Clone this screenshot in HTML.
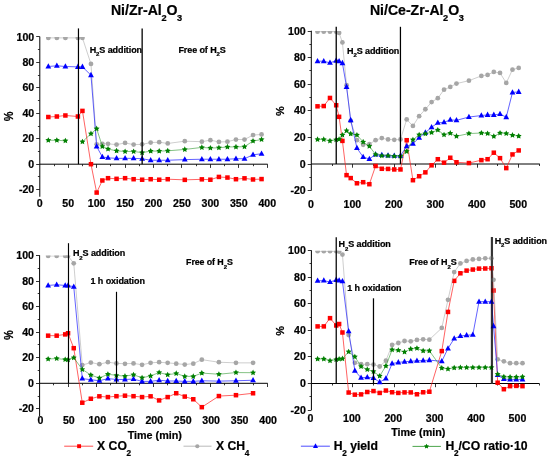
<!DOCTYPE html>
<html><head><meta charset="utf-8"><title>Ni/Zr-Al2O3 vs Ni/Ce-Zr-Al2O3</title>
<style>html,body{margin:0;padding:0;background:#fff}svg{display:block}
svg text{font-family:'Liberation Sans', Arial, sans-serif;font-weight:bold;fill:#000;stroke:#000;stroke-width:0.22px}</style></head>
<body><svg font-size="10" width="550" height="459" viewBox="0 0 550 459">
<rect width="550" height="459" fill="#fff"/>
<path d="M39.80,36.60V196.76M39.80,164.20H267.64" stroke="#000" stroke-width="1" fill="none"/>
<path d="M39.80,189.50h-3.6M39.80,176.50h-1.9M39.80,164.50h-3.6M39.80,151.50h-1.9M39.80,138.50h-3.6M39.80,126.50h-1.9M39.80,113.50h-3.6M39.80,100.50h-1.9M39.80,87.50h-3.6M39.80,75.50h-1.9M39.80,62.50h-3.6M39.80,49.50h-1.9M39.80,36.50h-3.6M54.50,164.20v2.0M68.50,164.20v3.7M82.50,164.20v2.0M96.50,164.20v3.7M110.50,164.20v2.0M125.50,164.20v3.7M139.50,164.20v2.0M153.50,164.20v3.7M167.50,164.20v2.0M181.50,164.20v3.7M196.50,164.20v2.0M210.50,164.20v3.7M224.50,164.20v2.0M238.50,164.20v3.7M253.50,164.20v2.0M267.50,164.20v3.7" stroke="#111" stroke-width="0.85" fill="none"/>
<text x="34.20" y="193.14" text-anchor="end" font-size="10.6">-20</text>
<text x="34.20" y="167.70" text-anchor="end" font-size="10.6">0</text>
<text x="34.20" y="142.26" text-anchor="end" font-size="10.6">20</text>
<text x="34.20" y="116.82" text-anchor="end" font-size="10.6">40</text>
<text x="34.20" y="91.38" text-anchor="end" font-size="10.6">60</text>
<text x="34.20" y="65.94" text-anchor="end" font-size="10.6">80</text>
<text x="34.20" y="40.50" text-anchor="end" font-size="10.6">100</text>
<text x="39.80" y="206.9" text-anchor="middle" font-size="10.6">0</text>
<text x="68.23" y="206.9" text-anchor="middle" font-size="10.6">50</text>
<text x="96.66" y="206.9" text-anchor="middle" font-size="10.6">100</text>
<text x="125.09" y="206.9" text-anchor="middle" font-size="10.6">150</text>
<text x="153.52" y="206.9" text-anchor="middle" font-size="10.6">200</text>
<text x="181.95" y="206.9" text-anchor="middle" font-size="10.6">250</text>
<text x="210.38" y="206.9" text-anchor="middle" font-size="10.6">300</text>
<text x="238.81" y="206.9" text-anchor="middle" font-size="10.6">350</text>
<text x="267.24" y="206.9" text-anchor="middle" font-size="10.6">400</text>
<text transform="translate(12.5,116.3) rotate(-90) scale(1,1.13)" text-anchor="middle" font-size="11">%</text>
<clipPath id="c1"><rect x="39.80" y="37.00" width="227.44" height="166.12"/></clipPath><g clip-path="url(#c1)">
<polyline points="48.33,117.01 56.86,116.50 65.39,115.48 77.90,116.50 82.44,110.90 90.97,164.20 96.66,192.57 102.35,180.48 108.03,178.19 116.56,178.83 125.09,178.19 133.62,179.21 142.15,179.72 150.68,179.21 159.21,179.72 167.74,179.21 184.79,179.85 201.85,179.34 210.38,179.72 218.91,176.92 227.44,177.56 235.97,179.21 244.50,178.32 253.02,179.46 261.55,179.08" fill="none" stroke="#ff2020" stroke-width="0.7"/>
<g fill="#ff0000"><rect x="46.08" y="114.76" width="4.5" height="4.5"/><rect x="54.61" y="114.25" width="4.5" height="4.5"/><rect x="63.14" y="113.23" width="4.5" height="4.5"/><rect x="75.65" y="114.25" width="4.5" height="4.5"/><rect x="80.19" y="108.65" width="4.5" height="4.5"/><rect x="88.72" y="161.95" width="4.5" height="4.5"/><rect x="94.41" y="190.32" width="4.5" height="4.5"/><rect x="100.10" y="178.23" width="4.5" height="4.5"/><rect x="105.78" y="175.94" width="4.5" height="4.5"/><rect x="114.31" y="176.58" width="4.5" height="4.5"/><rect x="122.84" y="175.94" width="4.5" height="4.5"/><rect x="131.37" y="176.96" width="4.5" height="4.5"/><rect x="139.90" y="177.47" width="4.5" height="4.5"/><rect x="148.43" y="176.96" width="4.5" height="4.5"/><rect x="156.96" y="177.47" width="4.5" height="4.5"/><rect x="165.49" y="176.96" width="4.5" height="4.5"/><rect x="182.54" y="177.60" width="4.5" height="4.5"/><rect x="199.60" y="177.09" width="4.5" height="4.5"/><rect x="208.13" y="177.47" width="4.5" height="4.5"/><rect x="216.66" y="174.67" width="4.5" height="4.5"/><rect x="225.19" y="175.31" width="4.5" height="4.5"/><rect x="233.72" y="176.96" width="4.5" height="4.5"/><rect x="242.25" y="176.07" width="4.5" height="4.5"/><rect x="250.77" y="177.21" width="4.5" height="4.5"/><rect x="259.30" y="176.83" width="4.5" height="4.5"/></g>
<polyline points="48.33,37.89 56.86,37.89 65.39,37.89 77.90,37.89 82.44,37.89 90.97,63.97 96.66,144.36 102.35,143.85 108.03,143.85 116.56,144.61 125.09,142.96 133.62,144.61 142.15,144.36 150.68,142.58 159.21,142.19 167.74,143.47 184.79,141.18 201.85,141.69 210.38,140.16 218.91,141.94 227.44,141.69 235.97,139.52 244.50,139.52 253.02,135.07 261.55,134.44" fill="none" stroke="#acacac" stroke-width="0.6"/>
<g fill="#a6a6a6"><circle cx="48.33" cy="37.89" r="2.38"/><circle cx="56.86" cy="37.89" r="2.38"/><circle cx="65.39" cy="37.89" r="2.38"/><circle cx="77.90" cy="37.89" r="2.38"/><circle cx="82.44" cy="37.89" r="2.38"/><circle cx="90.97" cy="63.97" r="2.38"/><circle cx="96.66" cy="144.36" r="2.38"/><circle cx="102.35" cy="143.85" r="2.38"/><circle cx="108.03" cy="143.85" r="2.38"/><circle cx="116.56" cy="144.61" r="2.38"/><circle cx="125.09" cy="142.96" r="2.38"/><circle cx="133.62" cy="144.61" r="2.38"/><circle cx="142.15" cy="144.36" r="2.38"/><circle cx="150.68" cy="142.58" r="2.38"/><circle cx="159.21" cy="142.19" r="2.38"/><circle cx="167.74" cy="143.47" r="2.38"/><circle cx="184.79" cy="141.18" r="2.38"/><circle cx="201.85" cy="141.69" r="2.38"/><circle cx="210.38" cy="140.16" r="2.38"/><circle cx="218.91" cy="141.94" r="2.38"/><circle cx="227.44" cy="141.69" r="2.38"/><circle cx="235.97" cy="139.52" r="2.38"/><circle cx="244.50" cy="139.52" r="2.38"/><circle cx="253.02" cy="135.07" r="2.38"/><circle cx="261.55" cy="134.44" r="2.38"/></g>
<polyline points="48.33,66.51 56.86,65.75 65.39,66.51 77.90,66.89 82.44,66.89 90.97,75.16 96.66,146.52 102.35,156.95 108.03,157.84 116.56,158.35 125.09,158.35 133.62,158.35 142.15,158.73 150.68,160.26 159.21,160.26 167.74,160.26 184.79,159.62 201.85,159.24 210.38,159.24 218.91,159.24 227.44,159.24 235.97,158.73 244.50,158.73 253.02,154.79 261.55,153.77" fill="none" stroke="#2020ff" stroke-width="0.7"/>
<g fill="#0000ff"><polygon points="48.33,63.21 51.23,68.51 45.43,68.51"/><polygon points="56.86,62.45 59.76,67.75 53.96,67.75"/><polygon points="65.39,63.21 68.29,68.51 62.49,68.51"/><polygon points="77.90,63.59 80.80,68.89 75.00,68.89"/><polygon points="82.44,63.59 85.34,68.89 79.54,68.89"/><polygon points="90.97,71.86 93.87,77.16 88.07,77.16"/><polygon points="96.66,143.22 99.56,148.52 93.76,148.52"/><polygon points="102.35,153.65 105.25,158.95 99.45,158.95"/><polygon points="108.03,154.54 110.93,159.84 105.13,159.84"/><polygon points="116.56,155.05 119.46,160.35 113.66,160.35"/><polygon points="125.09,155.05 127.99,160.35 122.19,160.35"/><polygon points="133.62,155.05 136.52,160.35 130.72,160.35"/><polygon points="142.15,155.43 145.05,160.73 139.25,160.73"/><polygon points="150.68,156.96 153.58,162.26 147.78,162.26"/><polygon points="159.21,156.96 162.11,162.26 156.31,162.26"/><polygon points="167.74,156.96 170.64,162.26 164.84,162.26"/><polygon points="184.79,156.32 187.69,161.62 181.89,161.62"/><polygon points="201.85,155.94 204.75,161.24 198.95,161.24"/><polygon points="210.38,155.94 213.28,161.24 207.48,161.24"/><polygon points="218.91,155.94 221.81,161.24 216.01,161.24"/><polygon points="227.44,155.94 230.34,161.24 224.54,161.24"/><polygon points="235.97,155.43 238.87,160.73 233.07,160.73"/><polygon points="244.50,155.43 247.40,160.73 241.60,160.73"/><polygon points="253.02,151.49 255.92,156.79 250.12,156.79"/><polygon points="261.55,150.47 264.45,155.77 258.65,155.77"/></g>
<polyline points="48.33,140.29 56.86,140.29 65.39,140.80" fill="none" stroke="#1f8f1f" stroke-width="0.55"/>
<polyline points="82.44,141.81 90.97,133.67 96.66,128.71 102.35,146.39 108.03,149.06 116.56,150.84 125.09,151.48 133.62,151.48 142.15,152.62 150.68,151.10 159.21,151.10 167.74,150.84 184.79,149.44 201.85,147.41 210.38,148.05 218.91,147.79 227.44,146.90 235.97,146.90 244.50,146.65 253.02,141.05 261.55,139.52" fill="none" stroke="#1f8f1f" stroke-width="0.55"/>
<g fill="#007f00"><polygon points="48.33,137.19 49.24,139.03 51.28,139.33 49.80,140.77 50.15,142.79 48.33,141.84 46.51,142.79 46.85,140.77 45.38,139.33 47.42,139.03"/><polygon points="56.86,137.19 57.77,139.03 59.81,139.33 58.33,140.77 58.68,142.79 56.86,141.84 55.04,142.79 55.38,140.77 53.91,139.33 55.95,139.03"/><polygon points="65.39,137.70 66.30,139.54 68.34,139.84 66.86,141.27 67.21,143.30 65.39,142.35 63.56,143.30 63.91,141.27 62.44,139.84 64.48,139.54"/><polygon points="82.44,138.71 83.36,140.56 85.39,140.85 83.92,142.29 84.27,144.32 82.44,143.36 80.62,144.32 80.97,142.29 79.50,140.85 81.53,140.56"/><polygon points="90.97,130.57 91.89,132.42 93.92,132.71 92.45,134.15 92.80,136.18 90.97,135.22 89.15,136.18 89.50,134.15 88.03,132.71 90.06,132.42"/><polygon points="96.66,125.61 97.57,127.46 99.61,127.75 98.13,129.19 98.48,131.22 96.66,130.26 94.84,131.22 95.19,129.19 93.71,127.75 95.75,127.46"/><polygon points="102.35,143.29 103.26,145.14 105.29,145.43 103.82,146.87 104.17,148.90 102.35,147.94 100.52,148.90 100.87,146.87 99.40,145.43 101.43,145.14"/><polygon points="108.03,145.96 108.94,147.81 110.98,148.11 109.51,149.54 109.85,151.57 108.03,150.61 106.21,151.57 106.56,149.54 105.08,148.11 107.12,147.81"/><polygon points="116.56,147.74 117.47,149.59 119.51,149.89 118.04,151.32 118.38,153.35 116.56,152.39 114.74,153.35 115.09,151.32 113.61,149.89 115.65,149.59"/><polygon points="125.09,148.38 126.00,150.23 128.04,150.52 126.56,151.96 126.91,153.99 125.09,153.03 123.27,153.99 123.62,151.96 122.14,150.52 124.18,150.23"/><polygon points="133.62,148.38 134.53,150.23 136.57,150.52 135.09,151.96 135.44,153.99 133.62,153.03 131.80,153.99 132.14,151.96 130.67,150.52 132.71,150.23"/><polygon points="142.15,149.52 143.06,151.37 145.10,151.67 143.62,153.10 143.97,155.13 142.15,154.17 140.33,155.13 140.67,153.10 139.20,151.67 141.24,151.37"/><polygon points="150.68,148.00 151.59,149.84 153.63,150.14 152.15,151.58 152.50,153.61 150.68,152.65 148.85,153.61 149.20,151.58 147.73,150.14 149.77,149.84"/><polygon points="159.21,148.00 160.12,149.84 162.15,150.14 160.68,151.58 161.03,153.61 159.21,152.65 157.38,153.61 157.73,151.58 156.26,150.14 158.29,149.84"/><polygon points="167.74,147.74 168.65,149.59 170.68,149.89 169.21,151.32 169.56,153.35 167.74,152.39 165.91,153.35 166.26,151.32 164.79,149.89 166.82,149.59"/><polygon points="184.79,146.34 185.70,148.19 187.74,148.49 186.27,149.92 186.62,151.95 184.79,150.99 182.97,151.95 183.32,149.92 181.84,148.49 183.88,148.19"/><polygon points="201.85,144.31 202.76,146.16 204.80,146.45 203.33,147.89 203.67,149.92 201.85,148.96 200.03,149.92 200.38,147.89 198.90,146.45 200.94,146.16"/><polygon points="210.38,144.95 211.29,146.79 213.33,147.09 211.85,148.52 212.20,150.55 210.38,149.60 208.56,150.55 208.91,148.52 207.43,147.09 209.47,146.79"/><polygon points="218.91,144.69 219.82,146.54 221.86,146.83 220.38,148.27 220.73,150.30 218.91,149.34 217.09,150.30 217.43,148.27 215.96,146.83 218.00,146.54"/><polygon points="227.44,143.80 228.35,145.65 230.39,145.94 228.91,147.38 229.26,149.41 227.44,148.45 225.62,149.41 225.96,147.38 224.49,145.94 226.53,145.65"/><polygon points="235.97,143.80 236.88,145.65 238.92,145.94 237.44,147.38 237.79,149.41 235.97,148.45 234.14,149.41 234.49,147.38 233.02,145.94 235.06,145.65"/><polygon points="244.50,143.55 245.41,145.39 247.44,145.69 245.97,147.13 246.32,149.15 244.50,148.20 242.67,149.15 243.02,147.13 241.55,145.69 243.58,145.39"/><polygon points="253.02,137.95 253.94,139.80 255.97,140.09 254.50,141.53 254.85,143.56 253.02,142.60 251.20,143.56 251.55,141.53 250.08,140.09 252.11,139.80"/><polygon points="261.55,136.42 262.47,138.27 264.50,138.57 263.03,140.00 263.38,142.03 261.55,141.07 259.73,142.03 260.08,140.00 258.61,138.57 260.64,138.27"/></g>
</g>
<path d="M78.46,28.4V164.20" stroke="#000" stroke-width="1.2" fill="none"/>
<path d="M142.15,28.4V164.20" stroke="#000" stroke-width="1.3" fill="none"/>
<text x="89.7" y="52.7" font-size="9" letter-spacing="-0.09">H<tspan font-size="6" dy="3.7">2</tspan><tspan dy="-3.7">S</tspan> addition</text>
<text x="178.4" y="52.7" font-size="9" letter-spacing="-0.09">Free of H<tspan font-size="6" dy="3.7">2</tspan><tspan dy="-3.7">S</tspan></text>
<path d="M311.30,30.70V190.58M311.30,164.00H539.84" stroke="#000" stroke-width="1" fill="none"/>
<path d="M311.30,190.50h-3.6M311.30,177.50h-1.9M311.30,164.50h-3.6M311.30,150.50h-1.9M311.30,137.50h-3.6M311.30,124.50h-1.9M311.30,110.50h-3.6M311.30,97.50h-1.9M311.30,84.50h-3.6M311.30,70.50h-1.9M311.30,57.50h-3.6M311.30,44.50h-1.9M311.30,31.50h-3.6M332.50,164.00v2.0M352.50,164.00v3.7M373.50,164.00v2.0M394.50,164.00v3.7M415.50,164.00v2.0M435.50,164.00v3.7M456.50,164.00v2.0M477.50,164.00v3.7M497.50,164.00v2.0M518.50,164.00v3.7M539.50,164.00v2.0" stroke="#111" stroke-width="0.85" fill="none"/>
<text x="305.70" y="194.08" text-anchor="end" font-size="10.6">-20</text>
<text x="305.70" y="167.50" text-anchor="end" font-size="10.6">0</text>
<text x="305.70" y="140.92" text-anchor="end" font-size="10.6">20</text>
<text x="305.70" y="114.34" text-anchor="end" font-size="10.6">40</text>
<text x="305.70" y="87.76" text-anchor="end" font-size="10.6">60</text>
<text x="305.70" y="61.18" text-anchor="end" font-size="10.6">80</text>
<text x="305.70" y="34.60" text-anchor="end" font-size="10.6">100</text>
<text x="310.90" y="208.0" text-anchor="middle" font-size="10.6">0</text>
<text x="352.38" y="208.0" text-anchor="middle" font-size="10.6">100</text>
<text x="393.86" y="208.0" text-anchor="middle" font-size="10.6">200</text>
<text x="435.34" y="208.0" text-anchor="middle" font-size="10.6">300</text>
<text x="476.82" y="208.0" text-anchor="middle" font-size="10.6">400</text>
<text x="518.30" y="208.0" text-anchor="middle" font-size="10.6">500</text>
<text transform="translate(283.6,111.2) rotate(-90) scale(1,1.05)" text-anchor="middle" font-size="11">%</text>
<clipPath id="c2"><rect x="311.30" y="31.10" width="228.14" height="166.12"/></clipPath><g clip-path="url(#c2)">
<polyline points="317.52,106.32 323.74,106.06 329.97,97.95 336.19,105.26 339.09,116.82 342.41,140.88 346.56,175.16 350.71,178.09 356.93,183.27 363.15,182.21 369.37,184.20 375.59,165.99 381.82,168.78 388.04,168.92 394.26,169.45 400.48,169.45 406.70,140.21 412.93,180.21 419.15,176.23 425.37,172.37 431.59,165.33 437.81,159.22 444.04,162.67 450.26,157.75 456.48,162.27 468.92,163.07 481.37,160.15 487.59,159.22 493.81,152.70 500.03,158.15 506.26,168.12 512.48,154.43 518.70,150.44" fill="none" stroke="#ff2020" stroke-width="0.7"/>
<g fill="#ff0000"><rect x="315.27" y="104.07" width="4.5" height="4.5"/><rect x="321.49" y="103.81" width="4.5" height="4.5"/><rect x="327.72" y="95.70" width="4.5" height="4.5"/><rect x="333.94" y="103.01" width="4.5" height="4.5"/><rect x="336.84" y="114.57" width="4.5" height="4.5"/><rect x="340.16" y="138.63" width="4.5" height="4.5"/><rect x="344.31" y="172.91" width="4.5" height="4.5"/><rect x="348.46" y="175.84" width="4.5" height="4.5"/><rect x="354.68" y="181.02" width="4.5" height="4.5"/><rect x="360.90" y="179.96" width="4.5" height="4.5"/><rect x="367.12" y="181.95" width="4.5" height="4.5"/><rect x="373.34" y="163.74" width="4.5" height="4.5"/><rect x="379.57" y="166.53" width="4.5" height="4.5"/><rect x="385.79" y="166.67" width="4.5" height="4.5"/><rect x="392.01" y="167.20" width="4.5" height="4.5"/><rect x="398.23" y="167.20" width="4.5" height="4.5"/><rect x="404.45" y="137.96" width="4.5" height="4.5"/><rect x="410.68" y="177.96" width="4.5" height="4.5"/><rect x="416.90" y="173.98" width="4.5" height="4.5"/><rect x="423.12" y="170.12" width="4.5" height="4.5"/><rect x="429.34" y="163.08" width="4.5" height="4.5"/><rect x="435.56" y="156.97" width="4.5" height="4.5"/><rect x="441.79" y="160.42" width="4.5" height="4.5"/><rect x="448.01" y="155.50" width="4.5" height="4.5"/><rect x="454.23" y="160.02" width="4.5" height="4.5"/><rect x="466.67" y="160.82" width="4.5" height="4.5"/><rect x="479.12" y="157.90" width="4.5" height="4.5"/><rect x="485.34" y="156.97" width="4.5" height="4.5"/><rect x="491.56" y="150.45" width="4.5" height="4.5"/><rect x="497.78" y="155.90" width="4.5" height="4.5"/><rect x="504.01" y="165.87" width="4.5" height="4.5"/><rect x="510.23" y="152.18" width="4.5" height="4.5"/><rect x="516.45" y="148.19" width="4.5" height="4.5"/></g>
<polyline points="317.52,31.63 323.74,31.63 329.97,31.63 336.19,31.63 339.09,32.96 342.41,42.40 346.56,85.19 350.71,120.94 356.93,140.21 363.15,144.86 369.37,144.20 375.59,140.21 381.82,138.08 388.04,139.41 394.26,139.81 400.48,139.41 406.70,119.48 412.93,125.99 419.15,116.16 425.37,109.25 431.59,102.07 437.81,98.21 444.04,89.71 450.26,86.92 456.48,83.60 468.92,80.67 481.37,75.89 487.59,74.96 493.81,71.90 500.03,72.96 506.26,82.93 512.48,69.64 518.70,67.91" fill="none" stroke="#acacac" stroke-width="0.6"/>
<g fill="#a6a6a6"><circle cx="317.52" cy="31.63" r="2.38"/><circle cx="323.74" cy="31.63" r="2.38"/><circle cx="329.97" cy="31.63" r="2.38"/><circle cx="336.19" cy="31.63" r="2.38"/><circle cx="339.09" cy="32.96" r="2.38"/><circle cx="342.41" cy="42.40" r="2.38"/><circle cx="346.56" cy="85.19" r="2.38"/><circle cx="350.71" cy="120.94" r="2.38"/><circle cx="356.93" cy="140.21" r="2.38"/><circle cx="363.15" cy="144.86" r="2.38"/><circle cx="369.37" cy="144.20" r="2.38"/><circle cx="375.59" cy="140.21" r="2.38"/><circle cx="381.82" cy="138.08" r="2.38"/><circle cx="388.04" cy="139.41" r="2.38"/><circle cx="394.26" cy="139.81" r="2.38"/><circle cx="400.48" cy="139.41" r="2.38"/><circle cx="406.70" cy="119.48" r="2.38"/><circle cx="412.93" cy="125.99" r="2.38"/><circle cx="419.15" cy="116.16" r="2.38"/><circle cx="425.37" cy="109.25" r="2.38"/><circle cx="431.59" cy="102.07" r="2.38"/><circle cx="437.81" cy="98.21" r="2.38"/><circle cx="444.04" cy="89.71" r="2.38"/><circle cx="450.26" cy="86.92" r="2.38"/><circle cx="456.48" cy="83.60" r="2.38"/><circle cx="468.92" cy="80.67" r="2.38"/><circle cx="481.37" cy="75.89" r="2.38"/><circle cx="487.59" cy="74.96" r="2.38"/><circle cx="493.81" cy="71.90" r="2.38"/><circle cx="500.03" cy="72.96" r="2.38"/><circle cx="506.26" cy="82.93" r="2.38"/><circle cx="512.48" cy="69.64" r="2.38"/><circle cx="518.70" cy="67.91" r="2.38"/></g>
<polyline points="317.52,61.20 323.74,61.20 329.97,62.86 336.19,60.67 339.09,61.20 342.41,63.13 346.56,86.92 350.71,120.14 356.93,148.05 363.15,157.09 369.37,158.95 375.59,154.43 381.82,155.10 388.04,155.49 394.26,155.76 400.48,155.76 406.70,146.32 412.93,143.80 419.15,137.69 425.37,132.64 431.59,127.25 437.81,122.87 444.04,122.34 450.26,119.81 456.48,120.34 468.92,117.02 481.37,115.56 487.59,114.89 493.81,114.89 500.03,114.10 506.26,117.15 512.48,92.43 518.70,91.90" fill="none" stroke="#2020ff" stroke-width="0.7"/>
<g fill="#0000ff"><polygon points="317.52,57.90 320.42,63.20 314.62,63.20"/><polygon points="323.74,57.90 326.64,63.20 320.84,63.20"/><polygon points="329.97,59.56 332.87,64.86 327.07,64.86"/><polygon points="336.19,57.37 339.09,62.67 333.29,62.67"/><polygon points="339.09,57.90 341.99,63.20 336.19,63.20"/><polygon points="342.41,59.83 345.31,65.13 339.51,65.13"/><polygon points="346.56,83.62 349.46,88.92 343.66,88.92"/><polygon points="350.71,116.84 353.61,122.14 347.81,122.14"/><polygon points="356.93,144.75 359.83,150.05 354.03,150.05"/><polygon points="363.15,153.79 366.05,159.09 360.25,159.09"/><polygon points="369.37,155.65 372.27,160.95 366.47,160.95"/><polygon points="375.59,151.13 378.49,156.43 372.69,156.43"/><polygon points="381.82,151.80 384.72,157.10 378.92,157.10"/><polygon points="388.04,152.19 390.94,157.49 385.14,157.49"/><polygon points="394.26,152.46 397.16,157.76 391.36,157.76"/><polygon points="400.48,152.46 403.38,157.76 397.58,157.76"/><polygon points="406.70,143.02 409.60,148.32 403.80,148.32"/><polygon points="412.93,140.50 415.83,145.80 410.03,145.80"/><polygon points="419.15,134.39 422.05,139.69 416.25,139.69"/><polygon points="425.37,129.34 428.27,134.64 422.47,134.64"/><polygon points="431.59,123.95 434.49,129.25 428.69,129.25"/><polygon points="437.81,119.57 440.71,124.87 434.91,124.87"/><polygon points="444.04,119.04 446.94,124.34 441.14,124.34"/><polygon points="450.26,116.51 453.16,121.81 447.36,121.81"/><polygon points="456.48,117.04 459.38,122.34 453.58,122.34"/><polygon points="468.92,113.72 471.82,119.02 466.02,119.02"/><polygon points="481.37,112.26 484.27,117.56 478.47,117.56"/><polygon points="487.59,111.59 490.49,116.89 484.69,116.89"/><polygon points="493.81,111.59 496.71,116.89 490.91,116.89"/><polygon points="500.03,110.80 502.93,116.10 497.13,116.10"/><polygon points="506.26,113.85 509.16,119.15 503.36,119.15"/><polygon points="512.48,89.13 515.38,94.43 509.58,94.43"/><polygon points="518.70,88.60 521.60,93.90 515.80,93.90"/></g>
<polyline points="317.52,139.41 323.74,139.41 329.97,140.88 336.19,139.81 339.09,139.28 342.41,135.03 346.56,130.64 350.71,133.83 356.93,135.03 363.15,141.94 369.37,146.32 375.59,154.43 381.82,155.76 388.04,155.76 394.26,156.16 400.48,156.16 406.70,151.37 412.93,139.81 419.15,134.76 425.37,133.70 431.59,132.50 437.81,129.98 444.04,134.76 450.26,133.17 456.48,136.22 468.92,133.57 481.37,133.03 487.59,133.57 493.81,136.36 500.03,133.03 506.26,133.57 512.48,135.16 518.70,136.09" fill="none" stroke="#1f8f1f" stroke-width="0.55"/>
<g fill="#007f00"><polygon points="317.52,136.31 318.43,138.16 320.47,138.46 319.00,139.89 319.34,141.92 317.52,140.96 315.70,141.92 316.05,139.89 314.57,138.46 316.61,138.16"/><polygon points="323.74,136.31 324.66,138.16 326.69,138.46 325.22,139.89 325.57,141.92 323.74,140.96 321.92,141.92 322.27,139.89 320.80,138.46 322.83,138.16"/><polygon points="329.97,137.78 330.88,139.62 332.91,139.92 331.44,141.35 331.79,143.38 329.97,142.43 328.14,143.38 328.49,141.35 327.02,139.92 329.05,139.62"/><polygon points="336.19,136.71 337.10,138.56 339.14,138.85 337.66,140.29 338.01,142.32 336.19,141.36 334.37,142.32 334.71,140.29 333.24,138.85 335.28,138.56"/><polygon points="339.09,136.18 340.00,138.03 342.04,138.32 340.57,139.76 340.91,141.79 339.09,140.83 337.27,141.79 337.62,139.76 336.14,138.32 338.18,138.03"/><polygon points="342.41,131.93 343.32,133.77 345.36,134.07 343.88,135.51 344.23,137.54 342.41,136.58 340.59,137.54 340.94,135.51 339.46,134.07 341.50,133.77"/><polygon points="346.56,127.54 347.47,129.39 349.51,129.68 348.03,131.12 348.38,133.15 346.56,132.19 344.74,133.15 345.08,131.12 343.61,129.68 345.65,129.39"/><polygon points="350.71,130.73 351.62,132.58 353.65,132.87 352.18,134.31 352.53,136.34 350.71,135.38 348.88,136.34 349.23,134.31 347.76,132.87 349.79,132.58"/><polygon points="356.93,131.93 357.84,133.77 359.88,134.07 358.40,135.51 358.75,137.54 356.93,136.58 355.11,137.54 355.45,135.51 353.98,134.07 356.02,133.77"/><polygon points="363.15,138.84 364.06,140.68 366.10,140.98 364.62,142.42 364.97,144.45 363.15,143.49 361.33,144.45 361.68,142.42 360.20,140.98 362.24,140.68"/><polygon points="369.37,143.22 370.28,145.07 372.32,145.37 370.85,146.80 371.19,148.83 369.37,147.87 367.55,148.83 367.90,146.80 366.42,145.37 368.46,145.07"/><polygon points="375.59,151.33 376.51,153.18 378.54,153.47 377.07,154.91 377.42,156.94 375.59,155.98 373.77,156.94 374.12,154.91 372.65,153.47 374.68,153.18"/><polygon points="381.82,152.66 382.73,154.51 384.76,154.80 383.29,156.24 383.64,158.27 381.82,157.31 379.99,158.27 380.34,156.24 378.87,154.80 380.90,154.51"/><polygon points="388.04,152.66 388.95,154.51 390.99,154.80 389.51,156.24 389.86,158.27 388.04,157.31 386.22,158.27 386.56,156.24 385.09,154.80 387.13,154.51"/><polygon points="394.26,153.06 395.17,154.90 397.21,155.20 395.73,156.64 396.08,158.67 394.26,157.71 392.44,158.67 392.79,156.64 391.31,155.20 393.35,154.90"/><polygon points="400.48,153.06 401.39,154.90 403.43,155.20 401.96,156.64 402.30,158.67 400.48,157.71 398.66,158.67 399.01,156.64 397.53,155.20 399.57,154.90"/><polygon points="406.70,148.27 407.62,150.12 409.65,150.42 408.18,151.85 408.53,153.88 406.70,152.92 404.88,153.88 405.23,151.85 403.76,150.42 405.79,150.12"/><polygon points="412.93,136.71 413.84,138.56 415.87,138.85 414.40,140.29 414.75,142.32 412.93,141.36 411.10,142.32 411.45,140.29 409.98,138.85 412.01,138.56"/><polygon points="419.15,131.66 420.06,133.51 422.10,133.80 420.62,135.24 420.97,137.27 419.15,136.31 417.33,137.27 417.67,135.24 416.20,133.80 418.24,133.51"/><polygon points="425.37,130.60 426.28,132.44 428.32,132.74 426.84,134.18 427.19,136.21 425.37,135.25 423.55,136.21 423.90,134.18 422.42,132.74 424.46,132.44"/><polygon points="431.59,129.40 432.50,131.25 434.54,131.54 433.07,132.98 433.41,135.01 431.59,134.05 429.77,135.01 430.12,132.98 428.64,131.54 430.68,131.25"/><polygon points="437.81,126.88 438.73,128.72 440.76,129.02 439.29,130.46 439.64,132.49 437.81,131.53 435.99,132.49 436.34,130.46 434.87,129.02 436.90,128.72"/><polygon points="444.04,131.66 444.95,133.51 446.98,133.80 445.51,135.24 445.86,137.27 444.04,136.31 442.21,137.27 442.56,135.24 441.09,133.80 443.12,133.51"/><polygon points="450.26,130.07 451.17,131.91 453.21,132.21 451.73,133.65 452.08,135.68 450.26,134.72 448.44,135.68 448.78,133.65 447.31,132.21 449.35,131.91"/><polygon points="456.48,133.12 457.39,134.97 459.43,135.27 457.95,136.70 458.30,138.73 456.48,137.77 454.66,138.73 455.01,136.70 453.53,135.27 455.57,134.97"/><polygon points="468.92,130.47 469.84,132.31 471.87,132.61 470.40,134.04 470.75,136.07 468.92,135.12 467.10,136.07 467.45,134.04 465.98,132.61 468.01,132.31"/><polygon points="481.37,129.93 482.28,131.78 484.32,132.08 482.84,133.51 483.19,135.54 481.37,134.58 479.55,135.54 479.89,133.51 478.42,132.08 480.46,131.78"/><polygon points="487.59,130.47 488.50,132.31 490.54,132.61 489.06,134.04 489.41,136.07 487.59,135.12 485.77,136.07 486.12,134.04 484.64,132.61 486.68,132.31"/><polygon points="493.81,133.26 494.72,135.10 496.76,135.40 495.29,136.84 495.63,138.86 493.81,137.91 491.99,138.86 492.34,136.84 490.86,135.40 492.90,135.10"/><polygon points="500.03,129.93 500.95,131.78 502.98,132.08 501.51,133.51 501.86,135.54 500.03,134.58 498.21,135.54 498.56,133.51 497.09,132.08 499.12,131.78"/><polygon points="506.26,130.47 507.17,132.31 509.20,132.61 507.73,134.04 508.08,136.07 506.26,135.12 504.43,136.07 504.78,134.04 503.31,132.61 505.34,132.31"/><polygon points="512.48,132.06 513.39,133.91 515.43,134.20 513.95,135.64 514.30,137.67 512.48,136.71 510.66,137.67 511.00,135.64 509.53,134.20 511.57,133.91"/><polygon points="518.70,132.99 519.61,134.84 521.65,135.13 520.17,136.57 520.52,138.60 518.70,137.64 516.88,138.60 517.23,136.57 515.75,135.13 517.79,134.84"/></g>
</g>
<path d="M336.23,26.8V164.00" stroke="#000" stroke-width="1.3" fill="none"/>
<path d="M400.44,26.8V164.00" stroke="#000" stroke-width="1.25" fill="none"/>
<text x="347.0" y="53.5" font-size="9" letter-spacing="-0.09">H<tspan font-size="6" dy="3.7">2</tspan><tspan dy="-3.7">S</tspan> addition</text>
<path d="M39.60,255.20V415.99M39.60,383.30H267.68" stroke="#000" stroke-width="1" fill="none"/>
<path d="M39.60,408.50h-3.6M39.60,396.50h-1.9M39.60,383.50h-3.6M39.60,370.50h-1.9M39.60,357.50h-3.6M39.60,344.50h-1.9M39.60,332.50h-3.6M39.60,319.50h-1.9M39.60,306.50h-3.6M39.60,293.50h-1.9M39.60,281.50h-3.6M39.60,268.50h-1.9M39.60,255.50h-3.6M53.50,383.30v2.0M68.50,383.30v3.7M82.50,383.30v2.0M96.50,383.30v3.7M110.50,383.30v2.0M124.50,383.30v3.7M139.50,383.30v2.0M153.50,383.30v3.7M167.50,383.30v2.0M181.50,383.30v3.7M196.50,383.30v2.0M210.50,383.30v3.7M224.50,383.30v2.0M238.50,383.30v3.7M253.50,383.30v2.0M267.50,383.30v3.7" stroke="#111" stroke-width="0.85" fill="none"/>
<text x="34.00" y="412.34" text-anchor="end" font-size="10.6">-20</text>
<text x="34.00" y="386.80" text-anchor="end" font-size="10.6">0</text>
<text x="34.00" y="361.26" text-anchor="end" font-size="10.6">20</text>
<text x="34.00" y="335.72" text-anchor="end" font-size="10.6">40</text>
<text x="34.00" y="310.18" text-anchor="end" font-size="10.6">60</text>
<text x="34.00" y="284.64" text-anchor="end" font-size="10.6">80</text>
<text x="34.00" y="259.10" text-anchor="end" font-size="10.6">100</text>
<text x="40.40" y="423.9" text-anchor="middle" font-size="10.6">0</text>
<text x="68.86" y="423.9" text-anchor="middle" font-size="10.6">50</text>
<text x="97.32" y="423.9" text-anchor="middle" font-size="10.6">100</text>
<text x="125.78" y="423.9" text-anchor="middle" font-size="10.6">150</text>
<text x="154.24" y="423.9" text-anchor="middle" font-size="10.6">200</text>
<text x="182.70" y="423.9" text-anchor="middle" font-size="10.6">250</text>
<text x="211.16" y="423.9" text-anchor="middle" font-size="10.6">300</text>
<text x="239.62" y="423.9" text-anchor="middle" font-size="10.6">350</text>
<text x="268.08" y="423.9" text-anchor="middle" font-size="10.6">400</text>
<text transform="translate(12.5,335.2) rotate(-90) scale(1,1.13)" text-anchor="middle" font-size="11">%</text>
<clipPath id="c3"><rect x="39.60" y="255.60" width="227.68" height="166.78"/></clipPath><g clip-path="url(#c3)">
<polyline points="48.14,335.67 56.68,335.67 65.21,334.39 68.06,333.24 73.75,348.18 82.29,402.71 90.83,398.75 99.37,396.33 107.90,397.09 116.44,396.20 124.98,395.69 133.52,396.20 142.06,397.09 150.59,396.33 159.13,400.41 167.67,397.09 176.21,393.26 184.75,396.58 193.28,399.26 201.82,407.18 218.90,396.07 235.97,395.18 253.05,393.26" fill="none" stroke="#ff2020" stroke-width="0.7"/>
<g fill="#ff0000"><rect x="45.89" y="333.42" width="4.5" height="4.5"/><rect x="54.43" y="333.42" width="4.5" height="4.5"/><rect x="62.96" y="332.14" width="4.5" height="4.5"/><rect x="65.81" y="330.99" width="4.5" height="4.5"/><rect x="71.50" y="345.93" width="4.5" height="4.5"/><rect x="80.04" y="400.46" width="4.5" height="4.5"/><rect x="88.58" y="396.50" width="4.5" height="4.5"/><rect x="97.12" y="394.08" width="4.5" height="4.5"/><rect x="105.65" y="394.84" width="4.5" height="4.5"/><rect x="114.19" y="393.95" width="4.5" height="4.5"/><rect x="122.73" y="393.44" width="4.5" height="4.5"/><rect x="131.27" y="393.95" width="4.5" height="4.5"/><rect x="139.81" y="394.84" width="4.5" height="4.5"/><rect x="148.34" y="394.08" width="4.5" height="4.5"/><rect x="156.88" y="398.16" width="4.5" height="4.5"/><rect x="165.42" y="394.84" width="4.5" height="4.5"/><rect x="173.96" y="391.01" width="4.5" height="4.5"/><rect x="182.50" y="394.33" width="4.5" height="4.5"/><rect x="191.03" y="397.01" width="4.5" height="4.5"/><rect x="199.57" y="404.93" width="4.5" height="4.5"/><rect x="216.65" y="393.82" width="4.5" height="4.5"/><rect x="233.72" y="392.93" width="4.5" height="4.5"/><rect x="250.80" y="391.01" width="4.5" height="4.5"/></g>
<polyline points="48.14,255.98 56.68,255.98 65.21,255.98 68.06,255.98 73.75,263.26 82.29,365.04 90.83,362.61 99.37,364.15 107.90,362.23 116.44,363.38 124.98,363.76 133.52,363.38 142.06,364.78 150.59,362.87 159.13,362.23 167.67,362.87 176.21,363.63 184.75,364.53 193.28,363.63 201.82,359.68 218.90,362.23 235.97,362.87 253.05,362.87" fill="none" stroke="#acacac" stroke-width="0.6"/>
<g fill="#a6a6a6"><circle cx="48.14" cy="255.98" r="2.38"/><circle cx="56.68" cy="255.98" r="2.38"/><circle cx="65.21" cy="255.98" r="2.38"/><circle cx="68.06" cy="255.98" r="2.38"/><circle cx="73.75" cy="263.26" r="2.38"/><circle cx="82.29" cy="365.04" r="2.38"/><circle cx="90.83" cy="362.61" r="2.38"/><circle cx="99.37" cy="364.15" r="2.38"/><circle cx="107.90" cy="362.23" r="2.38"/><circle cx="116.44" cy="363.38" r="2.38"/><circle cx="124.98" cy="363.76" r="2.38"/><circle cx="133.52" cy="363.38" r="2.38"/><circle cx="142.06" cy="364.78" r="2.38"/><circle cx="150.59" cy="362.87" r="2.38"/><circle cx="159.13" cy="362.23" r="2.38"/><circle cx="167.67" cy="362.87" r="2.38"/><circle cx="176.21" cy="363.63" r="2.38"/><circle cx="184.75" cy="364.53" r="2.38"/><circle cx="193.28" cy="363.63" r="2.38"/><circle cx="201.82" cy="359.68" r="2.38"/><circle cx="218.90" cy="362.23" r="2.38"/><circle cx="235.97" cy="362.87" r="2.38"/><circle cx="253.05" cy="362.87" r="2.38"/></g>
<polyline points="48.14,285.48 56.68,284.72 65.21,285.48 68.06,285.48 73.75,286.76 82.29,378.58 90.83,379.72 99.37,380.75 107.90,378.58 116.44,379.47 124.98,379.47 133.52,379.09 142.06,381.38 150.59,381.38 159.13,380.24 167.67,381.00 176.21,381.00 184.75,381.38 193.28,381.38 201.82,380.75 218.90,381.13 235.97,380.75 253.05,380.24" fill="none" stroke="#2020ff" stroke-width="0.7"/>
<g fill="#0000ff"><polygon points="48.14,282.18 51.04,287.48 45.24,287.48"/><polygon points="56.68,281.42 59.58,286.72 53.78,286.72"/><polygon points="65.21,282.18 68.11,287.48 62.31,287.48"/><polygon points="68.06,282.18 70.96,287.48 65.16,287.48"/><polygon points="73.75,283.46 76.65,288.76 70.85,288.76"/><polygon points="82.29,375.28 85.19,380.58 79.39,380.58"/><polygon points="90.83,376.42 93.73,381.72 87.93,381.72"/><polygon points="99.37,377.45 102.27,382.75 96.47,382.75"/><polygon points="107.90,375.28 110.80,380.58 105.00,380.58"/><polygon points="116.44,376.17 119.34,381.47 113.54,381.47"/><polygon points="124.98,376.17 127.88,381.47 122.08,381.47"/><polygon points="133.52,375.79 136.42,381.09 130.62,381.09"/><polygon points="142.06,378.08 144.96,383.38 139.16,383.38"/><polygon points="150.59,378.08 153.49,383.38 147.69,383.38"/><polygon points="159.13,376.94 162.03,382.24 156.23,382.24"/><polygon points="167.67,377.70 170.57,383.00 164.77,383.00"/><polygon points="176.21,377.70 179.11,383.00 173.31,383.00"/><polygon points="184.75,378.08 187.65,383.38 181.85,383.38"/><polygon points="193.28,378.08 196.18,383.38 190.38,383.38"/><polygon points="201.82,377.45 204.72,382.75 198.92,382.75"/><polygon points="218.90,377.83 221.80,383.13 216.00,383.13"/><polygon points="235.97,377.45 238.87,382.75 233.07,382.75"/><polygon points="253.05,376.94 255.95,382.24 250.15,382.24"/></g>
<polyline points="48.14,359.04 56.68,358.53 65.21,359.55 68.06,359.80 73.75,357.76 82.29,369.38 90.83,375.00 99.37,378.06 107.90,374.23 116.44,375.38 124.98,376.15 133.52,374.74 142.06,377.81 150.59,375.89 159.13,372.57 167.67,374.74 176.21,373.47 184.75,376.40 193.28,376.40 201.82,373.08 218.90,374.23 235.97,372.57 253.05,372.70" fill="none" stroke="#1f8f1f" stroke-width="0.55"/>
<g fill="#007f00"><polygon points="48.14,355.94 49.05,357.78 51.09,358.08 49.61,359.52 49.96,361.54 48.14,360.59 46.32,361.54 46.66,359.52 45.19,358.08 47.23,357.78"/><polygon points="56.68,355.43 57.59,357.27 59.62,357.57 58.15,359.01 58.50,361.03 56.68,360.08 54.85,361.03 55.20,359.01 53.73,357.57 55.76,357.27"/><polygon points="65.21,356.45 66.13,358.29 68.16,358.59 66.69,360.03 67.04,362.06 65.21,361.10 63.39,362.06 63.74,360.03 62.27,358.59 64.30,358.29"/><polygon points="68.06,356.70 68.97,358.55 71.01,358.85 69.53,360.28 69.88,362.31 68.06,361.35 66.24,362.31 66.59,360.28 65.11,358.85 67.15,358.55"/><polygon points="73.75,354.66 74.66,356.51 76.70,356.80 75.23,358.24 75.57,360.27 73.75,359.31 71.93,360.27 72.28,358.24 70.80,356.80 72.84,356.51"/><polygon points="82.29,366.28 83.20,368.13 85.24,368.42 83.76,369.86 84.11,371.89 82.29,370.93 80.47,371.89 80.82,369.86 79.34,368.42 81.38,368.13"/><polygon points="90.83,371.90 91.74,373.75 93.78,374.04 92.30,375.48 92.65,377.51 90.83,376.55 89.01,377.51 89.35,375.48 87.88,374.04 89.92,373.75"/><polygon points="99.37,374.96 100.28,376.81 102.31,377.11 100.84,378.54 101.19,380.57 99.37,379.61 97.54,380.57 97.89,378.54 96.42,377.11 98.45,376.81"/><polygon points="107.90,371.13 108.82,372.98 110.85,373.28 109.38,374.71 109.73,376.74 107.90,375.78 106.08,376.74 106.43,374.71 104.96,373.28 106.99,372.98"/><polygon points="116.44,372.28 117.35,374.13 119.39,374.42 117.92,375.86 118.26,377.89 116.44,376.93 114.62,377.89 114.97,375.86 113.49,374.42 115.53,374.13"/><polygon points="124.98,373.05 125.89,374.89 127.93,375.19 126.45,376.63 126.80,378.66 124.98,377.70 123.16,378.66 123.51,376.63 122.03,375.19 124.07,374.89"/><polygon points="133.52,371.64 134.43,373.49 136.47,373.79 134.99,375.22 135.34,377.25 133.52,376.29 131.70,377.25 132.04,375.22 130.57,373.79 132.61,373.49"/><polygon points="142.06,374.71 142.97,376.55 145.00,376.85 143.53,378.29 143.88,380.32 142.06,379.36 140.23,380.32 140.58,378.29 139.11,376.85 141.14,376.55"/><polygon points="150.59,372.79 151.51,374.64 153.54,374.94 152.07,376.37 152.42,378.40 150.59,377.44 148.77,378.40 149.12,376.37 147.65,374.94 149.68,374.64"/><polygon points="159.13,369.47 160.04,371.32 162.08,371.62 160.61,373.05 160.95,375.08 159.13,374.12 157.31,375.08 157.66,373.05 156.18,371.62 158.22,371.32"/><polygon points="167.67,371.64 168.58,373.49 170.62,373.79 169.14,375.22 169.49,377.25 167.67,376.29 165.85,377.25 166.20,375.22 164.72,373.79 166.76,373.49"/><polygon points="176.21,370.37 177.12,372.21 179.16,372.51 177.68,373.95 178.03,375.98 176.21,375.02 174.39,375.98 174.73,373.95 173.26,372.51 175.30,372.21"/><polygon points="184.75,373.30 185.66,375.15 187.69,375.45 186.22,376.88 186.57,378.91 184.75,377.95 182.92,378.91 183.27,376.88 181.80,375.45 183.83,375.15"/><polygon points="193.28,373.30 194.20,375.15 196.23,375.45 194.76,376.88 195.11,378.91 193.28,377.95 191.46,378.91 191.81,376.88 190.34,375.45 192.37,375.15"/><polygon points="201.82,369.98 202.73,371.83 204.77,372.13 203.30,373.56 203.64,375.59 201.82,374.63 200.00,375.59 200.35,373.56 198.87,372.13 200.91,371.83"/><polygon points="218.90,371.13 219.81,372.98 221.85,373.28 220.37,374.71 220.72,376.74 218.90,375.78 217.08,376.74 217.42,374.71 215.95,373.28 217.99,372.98"/><polygon points="235.97,369.47 236.89,371.32 238.92,371.62 237.45,373.05 237.80,375.08 235.97,374.12 234.15,375.08 234.50,373.05 233.03,371.62 235.06,371.32"/><polygon points="253.05,369.60 253.96,371.45 256.00,371.74 254.52,373.18 254.87,375.21 253.05,374.25 251.23,375.21 251.58,373.18 250.10,371.74 252.14,371.45"/></g>
</g>
<path d="M68.49,243.2V383.30" stroke="#000" stroke-width="1.15" fill="none"/>
<path d="M116.50,291.8V383.30" stroke="#000" stroke-width="1.15" fill="none"/>
<text x="72.9" y="256.1" font-size="9" letter-spacing="-0.09">H<tspan font-size="6" dy="3.7">2</tspan><tspan dy="-3.7">S</tspan> addition</text>
<text x="186.1" y="265.3" font-size="8.85" letter-spacing="-0.09">Free of H<tspan font-size="6" dy="3.7">2</tspan><tspan dy="-3.7">S</tspan></text>
<text x="90.5" y="284" font-size="9" letter-spacing="-0.09">1 h oxidation</text>
<path d="M311.40,250.30V410.06M311.40,383.50H539.44" stroke="#000" stroke-width="1" fill="none"/>
<path d="M311.40,410.50h-3.6M311.40,396.50h-1.9M311.40,383.50h-3.6M311.40,370.50h-1.9M311.40,356.50h-3.6M311.40,343.50h-1.9M311.40,330.50h-3.6M311.40,317.50h-1.9M311.40,303.50h-3.6M311.40,290.50h-1.9M311.40,277.50h-3.6M311.40,263.50h-1.9M311.40,250.50h-3.6M332.50,383.50v2.0M352.50,383.50v3.7M373.50,383.50v2.0M394.50,383.50v3.7M414.50,383.50v2.0M435.50,383.50v3.7M456.50,383.50v2.0M476.50,383.50v3.7M497.50,383.50v2.0M518.50,383.50v3.7M539.50,383.50v2.0" stroke="#111" stroke-width="0.85" fill="none"/>
<text x="305.80" y="413.56" text-anchor="end" font-size="10.6">-20</text>
<text x="305.80" y="387.00" text-anchor="end" font-size="10.6">0</text>
<text x="305.80" y="360.44" text-anchor="end" font-size="10.6">20</text>
<text x="305.80" y="333.88" text-anchor="end" font-size="10.6">40</text>
<text x="305.80" y="307.32" text-anchor="end" font-size="10.6">60</text>
<text x="305.80" y="280.76" text-anchor="end" font-size="10.6">80</text>
<text x="305.80" y="254.20" text-anchor="end" font-size="10.6">100</text>
<text x="310.50" y="422.2" text-anchor="middle" font-size="10.6">0</text>
<text x="351.89" y="422.2" text-anchor="middle" font-size="10.6">100</text>
<text x="393.28" y="422.2" text-anchor="middle" font-size="10.6">200</text>
<text x="434.67" y="422.2" text-anchor="middle" font-size="10.6">300</text>
<text x="476.06" y="422.2" text-anchor="middle" font-size="10.6">400</text>
<text x="517.45" y="422.2" text-anchor="middle" font-size="10.6">500</text>
<text transform="translate(283.6,330.8) rotate(-90) scale(1,1.05)" text-anchor="middle" font-size="11">%</text>
<path d="M491.90,237V383.50" stroke="#777" stroke-width="2.3" fill="none"/>
<clipPath id="c4"><rect x="311.40" y="250.70" width="227.64" height="166.00"/></clipPath><g clip-path="url(#c4)">
<polyline points="317.61,326.40 323.82,326.40 330.03,318.16 336.23,325.47 339.13,324.01 342.44,332.50 348.65,392.53 354.86,394.66 361.07,394.39 367.28,392.00 373.48,391.07 379.69,392.93 385.90,390.54 392.11,392.26 398.32,392.93 404.53,392.40 410.74,392.40 416.94,394.26 423.15,392.26 429.36,391.73 441.78,351.10 447.99,311.92 454.20,280.85 460.40,273.28 466.61,270.62 472.82,269.56 479.03,268.63 485.24,268.50 491.45,268.23 493.52,290.54 497.65,382.70 503.86,389.21 510.07,386.16 516.28,385.89 522.49,386.16" fill="none" stroke="#ff2020" stroke-width="0.7"/>
<g fill="#ff0000"><rect x="315.36" y="324.15" width="4.5" height="4.5"/><rect x="321.57" y="324.15" width="4.5" height="4.5"/><rect x="327.78" y="315.91" width="4.5" height="4.5"/><rect x="333.98" y="323.22" width="4.5" height="4.5"/><rect x="336.88" y="321.76" width="4.5" height="4.5"/><rect x="340.19" y="330.25" width="4.5" height="4.5"/><rect x="346.40" y="390.28" width="4.5" height="4.5"/><rect x="352.61" y="392.41" width="4.5" height="4.5"/><rect x="358.82" y="392.14" width="4.5" height="4.5"/><rect x="365.03" y="389.75" width="4.5" height="4.5"/><rect x="371.23" y="388.82" width="4.5" height="4.5"/><rect x="377.44" y="390.68" width="4.5" height="4.5"/><rect x="383.65" y="388.29" width="4.5" height="4.5"/><rect x="389.86" y="390.01" width="4.5" height="4.5"/><rect x="396.07" y="390.68" width="4.5" height="4.5"/><rect x="402.28" y="390.15" width="4.5" height="4.5"/><rect x="408.49" y="390.15" width="4.5" height="4.5"/><rect x="414.69" y="392.01" width="4.5" height="4.5"/><rect x="420.90" y="390.01" width="4.5" height="4.5"/><rect x="427.11" y="389.48" width="4.5" height="4.5"/><rect x="439.53" y="348.85" width="4.5" height="4.5"/><rect x="445.74" y="309.67" width="4.5" height="4.5"/><rect x="451.95" y="278.60" width="4.5" height="4.5"/><rect x="458.15" y="271.03" width="4.5" height="4.5"/><rect x="464.36" y="268.37" width="4.5" height="4.5"/><rect x="470.57" y="267.31" width="4.5" height="4.5"/><rect x="476.78" y="266.38" width="4.5" height="4.5"/><rect x="482.99" y="266.25" width="4.5" height="4.5"/><rect x="489.20" y="265.98" width="4.5" height="4.5"/><rect x="491.27" y="288.29" width="4.5" height="4.5"/><rect x="495.40" y="380.45" width="4.5" height="4.5"/><rect x="501.61" y="386.96" width="4.5" height="4.5"/><rect x="507.82" y="383.91" width="4.5" height="4.5"/><rect x="514.03" y="383.64" width="4.5" height="4.5"/><rect x="520.24" y="383.91" width="4.5" height="4.5"/></g>
<polyline points="317.61,251.16 323.82,251.16 330.03,251.16 336.23,251.16 339.13,251.50 342.44,254.55 348.65,335.03 354.86,362.78 361.07,364.24 367.28,364.24 373.48,364.51 379.69,366.50 385.90,360.66 392.11,344.99 398.32,343.00 404.53,341.00 410.74,341.27 416.94,339.94 423.15,339.28 429.36,339.68 441.78,327.99 447.99,299.84 454.20,272.08 460.40,263.45 466.61,260.93 472.82,259.46 479.03,258.93 485.24,258.34 491.45,258.34 493.52,279.78 497.65,359.33 503.86,361.32 510.07,363.18 516.28,363.18 522.49,363.18" fill="none" stroke="#acacac" stroke-width="0.6"/>
<g fill="#a6a6a6"><circle cx="317.61" cy="251.16" r="2.38"/><circle cx="323.82" cy="251.16" r="2.38"/><circle cx="330.03" cy="251.16" r="2.38"/><circle cx="336.23" cy="251.16" r="2.38"/><circle cx="339.13" cy="251.50" r="2.38"/><circle cx="342.44" cy="254.55" r="2.38"/><circle cx="348.65" cy="335.03" r="2.38"/><circle cx="354.86" cy="362.78" r="2.38"/><circle cx="361.07" cy="364.24" r="2.38"/><circle cx="367.28" cy="364.24" r="2.38"/><circle cx="373.48" cy="364.51" r="2.38"/><circle cx="379.69" cy="366.50" r="2.38"/><circle cx="385.90" cy="360.66" r="2.38"/><circle cx="392.11" cy="344.99" r="2.38"/><circle cx="398.32" cy="343.00" r="2.38"/><circle cx="404.53" cy="341.00" r="2.38"/><circle cx="410.74" cy="341.27" r="2.38"/><circle cx="416.94" cy="339.94" r="2.38"/><circle cx="423.15" cy="339.28" r="2.38"/><circle cx="429.36" cy="339.68" r="2.38"/><circle cx="441.78" cy="327.99" r="2.38"/><circle cx="447.99" cy="299.84" r="2.38"/><circle cx="454.20" cy="272.08" r="2.38"/><circle cx="460.40" cy="263.45" r="2.38"/><circle cx="466.61" cy="260.93" r="2.38"/><circle cx="472.82" cy="259.46" r="2.38"/><circle cx="479.03" cy="258.93" r="2.38"/><circle cx="485.24" cy="258.34" r="2.38"/><circle cx="491.45" cy="258.34" r="2.38"/><circle cx="493.52" cy="279.78" r="2.38"/><circle cx="497.65" cy="359.33" r="2.38"/><circle cx="503.86" cy="361.32" r="2.38"/><circle cx="510.07" cy="363.18" r="2.38"/><circle cx="516.28" cy="363.18" r="2.38"/><circle cx="522.49" cy="363.18" r="2.38"/></g>
<polyline points="317.61,280.85 323.82,280.58 330.03,282.04 336.23,279.92 339.13,280.45 342.44,281.24 348.65,331.18 354.86,370.75 361.07,377.79 367.28,377.26 373.48,378.06 379.69,382.17 385.90,378.45 392.11,363.58 398.32,362.38 404.53,361.72 410.74,361.32 416.94,360.79 423.15,360.53 429.36,360.13 441.78,361.32 447.99,348.44 454.20,338.61 460.40,335.96 466.61,335.29 472.82,334.76 479.03,301.70 485.24,301.70 491.45,301.70 493.52,326.13 497.65,375.00 503.86,379.12 510.07,379.38 516.28,379.38 522.49,379.38" fill="none" stroke="#2020ff" stroke-width="0.7"/>
<g fill="#0000ff"><polygon points="317.61,277.55 320.51,282.85 314.71,282.85"/><polygon points="323.82,277.28 326.72,282.58 320.92,282.58"/><polygon points="330.03,278.74 332.93,284.04 327.13,284.04"/><polygon points="336.23,276.62 339.13,281.92 333.33,281.92"/><polygon points="339.13,277.15 342.03,282.45 336.23,282.45"/><polygon points="342.44,277.94 345.34,283.24 339.54,283.24"/><polygon points="348.65,327.88 351.55,333.18 345.75,333.18"/><polygon points="354.86,367.45 357.76,372.75 351.96,372.75"/><polygon points="361.07,374.49 363.97,379.79 358.17,379.79"/><polygon points="367.28,373.96 370.18,379.26 364.38,379.26"/><polygon points="373.48,374.76 376.38,380.06 370.58,380.06"/><polygon points="379.69,378.87 382.59,384.17 376.79,384.17"/><polygon points="385.90,375.15 388.80,380.45 383.00,380.45"/><polygon points="392.11,360.28 395.01,365.58 389.21,365.58"/><polygon points="398.32,359.08 401.22,364.38 395.42,364.38"/><polygon points="404.53,358.42 407.43,363.72 401.63,363.72"/><polygon points="410.74,358.02 413.64,363.32 407.84,363.32"/><polygon points="416.94,357.49 419.84,362.79 414.04,362.79"/><polygon points="423.15,357.23 426.05,362.53 420.25,362.53"/><polygon points="429.36,356.83 432.26,362.13 426.46,362.13"/><polygon points="441.78,358.02 444.68,363.32 438.88,363.32"/><polygon points="447.99,345.14 450.89,350.44 445.09,350.44"/><polygon points="454.20,335.31 457.10,340.61 451.30,340.61"/><polygon points="460.40,332.66 463.30,337.96 457.50,337.96"/><polygon points="466.61,331.99 469.51,337.29 463.71,337.29"/><polygon points="472.82,331.46 475.72,336.76 469.92,336.76"/><polygon points="479.03,298.40 481.93,303.70 476.13,303.70"/><polygon points="485.24,298.40 488.14,303.70 482.34,303.70"/><polygon points="491.45,298.40 494.35,303.70 488.55,303.70"/><polygon points="493.52,322.83 496.42,328.13 490.62,328.13"/><polygon points="497.65,371.70 500.55,377.00 494.75,377.00"/><polygon points="503.86,375.82 506.76,381.12 500.96,381.12"/><polygon points="510.07,376.08 512.97,381.38 507.17,381.38"/><polygon points="516.28,376.08 519.18,381.38 513.38,381.38"/><polygon points="522.49,376.08 525.39,381.38 519.59,381.38"/></g>
<polyline points="317.61,358.93 323.82,358.93 330.03,360.66 336.23,359.60 339.13,359.06 342.44,358.67 348.65,351.76 354.86,356.81 361.07,366.50 367.28,369.56 373.48,371.55 379.69,376.06 385.90,365.97 392.11,349.77 398.32,350.30 404.53,351.89 410.74,348.97 416.94,348.31 423.15,350.83 429.36,350.83 441.78,368.10 447.99,368.89 454.20,367.83 460.40,367.56 466.61,367.56 472.82,367.56 479.03,367.56 485.24,367.56 491.45,367.56" fill="none" stroke="#1f8f1f" stroke-width="0.55"/>
<polyline points="497.65,374.20 503.86,376.86 510.07,377.13 516.28,377.13 522.49,376.86" fill="none" stroke="#1f8f1f" stroke-width="0.55"/>
<g fill="#007f00"><polygon points="317.61,355.83 318.52,357.68 320.56,357.97 319.08,359.41 319.43,361.44 317.61,360.48 315.79,361.44 316.13,359.41 314.66,357.97 316.70,357.68"/><polygon points="323.82,355.83 324.73,357.68 326.77,357.97 325.29,359.41 325.64,361.44 323.82,360.48 321.99,361.44 322.34,359.41 320.87,357.97 322.91,357.68"/><polygon points="330.03,357.56 330.94,359.40 332.97,359.70 331.50,361.14 331.85,363.17 330.03,362.21 328.20,363.17 328.55,361.14 327.08,359.70 329.11,359.40"/><polygon points="336.23,356.50 337.15,358.34 339.18,358.64 337.71,360.07 338.06,362.10 336.23,361.15 334.41,362.10 334.76,360.07 333.29,358.64 335.32,358.34"/><polygon points="339.13,355.96 340.04,357.81 342.08,358.11 340.61,359.54 340.95,361.57 339.13,360.61 337.31,361.57 337.66,359.54 336.18,358.11 338.22,357.81"/><polygon points="342.44,355.57 343.35,357.41 345.39,357.71 343.92,359.15 344.26,361.17 342.44,360.22 340.62,361.17 340.97,359.15 339.49,357.71 341.53,357.41"/><polygon points="348.65,348.66 349.56,350.51 351.60,350.80 350.13,352.24 350.47,354.27 348.65,353.31 346.83,354.27 347.18,352.24 345.70,350.80 347.74,350.51"/><polygon points="354.86,353.71 355.77,355.55 357.81,355.85 356.33,357.29 356.68,359.32 354.86,358.36 353.04,359.32 353.39,357.29 351.91,355.85 353.95,355.55"/><polygon points="361.07,363.40 361.98,365.25 364.02,365.54 362.54,366.98 362.89,369.01 361.07,368.05 359.25,369.01 359.59,366.98 358.12,365.54 360.16,365.25"/><polygon points="367.28,366.46 368.19,368.30 370.22,368.60 368.75,370.03 369.10,372.06 367.28,371.11 365.45,372.06 365.80,370.03 364.33,368.60 366.37,368.30"/><polygon points="373.48,368.45 374.40,370.29 376.43,370.59 374.96,372.03 375.31,374.06 373.48,373.10 371.66,374.06 372.01,372.03 370.54,370.59 372.57,370.29"/><polygon points="379.69,372.96 380.60,374.81 382.64,375.11 381.17,376.54 381.52,378.57 379.69,377.61 377.87,378.57 378.22,376.54 376.75,375.11 378.78,374.81"/><polygon points="385.90,362.87 386.81,364.72 388.85,365.01 387.38,366.45 387.72,368.48 385.90,367.52 384.08,368.48 384.43,366.45 382.95,365.01 384.99,364.72"/><polygon points="392.11,346.67 393.02,348.51 395.06,348.81 393.58,350.25 393.93,352.28 392.11,351.32 390.29,352.28 390.64,350.25 389.16,348.81 391.20,348.51"/><polygon points="398.32,347.20 399.23,349.05 401.27,349.34 399.79,350.78 400.14,352.81 398.32,351.85 396.50,352.81 396.84,350.78 395.37,349.34 397.41,349.05"/><polygon points="404.53,348.79 405.44,350.64 407.48,350.94 406.00,352.37 406.35,354.40 404.53,353.44 402.71,354.40 403.05,352.37 401.58,350.94 403.62,350.64"/><polygon points="410.74,345.87 411.65,347.72 413.68,348.01 412.21,349.45 412.56,351.48 410.74,350.52 408.91,351.48 409.26,349.45 407.79,348.01 409.82,347.72"/><polygon points="416.94,345.21 417.86,347.05 419.89,347.35 418.42,348.79 418.77,350.82 416.94,349.86 415.12,350.82 415.47,348.79 414.00,347.35 416.03,347.05"/><polygon points="423.15,347.73 424.06,349.58 426.10,349.87 424.63,351.31 424.98,353.34 423.15,352.38 421.33,353.34 421.68,351.31 420.20,349.87 422.24,349.58"/><polygon points="429.36,347.73 430.27,349.58 432.31,349.87 430.84,351.31 431.18,353.34 429.36,352.38 427.54,353.34 427.89,351.31 426.41,349.87 428.45,349.58"/><polygon points="441.78,365.00 442.69,366.84 444.73,367.14 443.25,368.57 443.60,370.60 441.78,369.65 439.96,370.60 440.30,368.57 438.83,367.14 440.87,366.84"/><polygon points="447.99,365.79 448.90,367.64 450.94,367.93 449.46,369.37 449.81,371.40 447.99,370.44 446.16,371.40 446.51,369.37 445.04,367.93 447.08,367.64"/><polygon points="454.20,364.73 455.11,366.58 457.14,366.87 455.67,368.31 456.02,370.34 454.20,369.38 452.37,370.34 452.72,368.31 451.25,366.87 453.28,366.58"/><polygon points="460.40,364.46 461.32,366.31 463.35,366.61 461.88,368.04 462.23,370.07 460.40,369.11 458.58,370.07 458.93,368.04 457.46,366.61 459.49,366.31"/><polygon points="466.61,364.46 467.52,366.31 469.56,366.61 468.09,368.04 468.43,370.07 466.61,369.11 464.79,370.07 465.14,368.04 463.66,366.61 465.70,366.31"/><polygon points="472.82,364.46 473.73,366.31 475.77,366.61 474.30,368.04 474.64,370.07 472.82,369.11 471.00,370.07 471.35,368.04 469.87,366.61 471.91,366.31"/><polygon points="479.03,364.46 479.94,366.31 481.98,366.61 480.50,368.04 480.85,370.07 479.03,369.11 477.21,370.07 477.56,368.04 476.08,366.61 478.12,366.31"/><polygon points="485.24,364.46 486.15,366.31 488.19,366.61 486.71,368.04 487.06,370.07 485.24,369.11 483.42,370.07 483.76,368.04 482.29,366.61 484.33,366.31"/><polygon points="491.45,364.46 492.36,366.31 494.39,366.61 492.92,368.04 493.27,370.07 491.45,369.11 489.62,370.07 489.97,368.04 488.50,366.61 490.54,366.31"/><polygon points="497.65,371.10 498.57,372.95 500.60,373.25 499.13,374.68 499.48,376.71 497.65,375.75 495.83,376.71 496.18,374.68 494.71,373.25 496.74,372.95"/><polygon points="503.86,373.76 504.77,375.61 506.81,375.90 505.34,377.34 505.69,379.37 503.86,378.41 502.04,379.37 502.39,377.34 500.92,375.90 502.95,375.61"/><polygon points="510.07,374.03 510.98,375.87 513.02,376.17 511.55,377.60 511.89,379.63 510.07,378.68 508.25,379.63 508.60,377.60 507.12,376.17 509.16,375.87"/><polygon points="516.28,374.03 517.19,375.87 519.23,376.17 517.75,377.60 518.10,379.63 516.28,378.68 514.46,379.63 514.81,377.60 513.33,376.17 515.37,375.87"/><polygon points="522.49,373.76 523.40,375.61 525.44,375.90 523.96,377.34 524.31,379.37 522.49,378.41 520.67,379.37 521.01,377.34 519.54,375.90 521.58,375.61"/></g>
</g>
<path d="M336.23,237.2V383.50" stroke="#000" stroke-width="1.25" fill="none"/>
<path d="M373.48,298.3V383.50" stroke="#000" stroke-width="1.25" fill="none"/>
<path d="M491.98,237V383.50" stroke="#000" stroke-width="1.1" fill="none"/>
<text x="338.5" y="247.3" font-size="9" letter-spacing="-0.09">H<tspan font-size="6" dy="3.7">2</tspan><tspan dy="-3.7">S</tspan> addition</text>
<text x="347.2" y="290.7" font-size="9" letter-spacing="-0.09">1 h oxidation</text>
<text x="409.2" y="265.2" font-size="9" letter-spacing="-0.09">Free of H<tspan font-size="6" dy="3.7">2</tspan><tspan dy="-3.7">S</tspan></text>
<text x="494.7" y="243.6" font-size="9" letter-spacing="-0.09">H<tspan font-size="6" dy="3.7">2</tspan><tspan dy="-3.7">S</tspan> addition</text>
<text x="110.9" y="14.6" font-size="14.1">Ni/Zr-Al<tspan font-size="9.2" dy="6.0" dx="-0.4">2</tspan><tspan dy="-6.0">O</tspan><tspan font-size="9.2" dy="6.0" dx="-0.4">3</tspan><tspan dy="-6.0"></tspan></text>
<text x="369.9" y="14.5" font-size="14.1">Ni/Ce-Zr-Al<tspan font-size="9.2" dy="6.0" dx="-0.4">2</tspan><tspan dy="-6.0">O</tspan><tspan font-size="9.2" dy="6.0" dx="-0.4">3</tspan><tspan dy="-6.0"></tspan></text>
<text x="127.7" y="438.7" font-size="10.75">Time (min)</text>
<text x="391.2" y="436.2" font-size="10.75">Time (min)</text>
<path d="M64.2,446.2H93.2" stroke="#ff2020" stroke-width="0.8"/><g fill="#ff0000"><rect x="77.14" y="444.24" width="3.915" height="3.915"/></g>
<text x="97.1" y="450.2" font-size="12.2">X CO<tspan font-size="8.2" dy="5.7" dx="-0.4">2</tspan><tspan dy="-5.7"></tspan></text>
<path d="M183.5,446.2H211.5" stroke="#a8a8a8" stroke-width="0.8"/><g fill="#a6a6a6"><circle cx="197.30" cy="446.20" r="2.07"/></g>
<text x="216" y="450.2" font-size="12.2">X CH<tspan font-size="8.2" dy="5.7" dx="-0.4">4</tspan><tspan dy="-5.7"></tspan></text>
<path d="M300.9,446.2H329.9" stroke="#2020ff" stroke-width="0.8"/><g fill="#0000ff"><polygon points="315.50,443.33 318.02,447.94 312.98,447.94"/></g>
<text x="333.8" y="450.2" font-size="12.2">H<tspan font-size="8.2" dy="5.7" dx="-0.4">2</tspan><tspan dy="-5.7"> yield</tspan></text>
<path d="M412.5,446.4H440.9" stroke="#1f8f1f" stroke-width="0.8"/><g fill="#007f00"><polygon points="426.50,443.70 427.29,445.31 429.06,445.57 427.78,446.82 428.09,448.58 426.50,447.75 424.91,448.58 425.22,446.82 423.94,445.57 425.71,445.31"/></g>
<text x="445.5" y="450.0" font-size="12.2">H<tspan font-size="8.2" dy="5.7" dx="-0.4">2</tspan><tspan dy="-5.7">/CO ratio·10</tspan></text>
</svg></body></html>
